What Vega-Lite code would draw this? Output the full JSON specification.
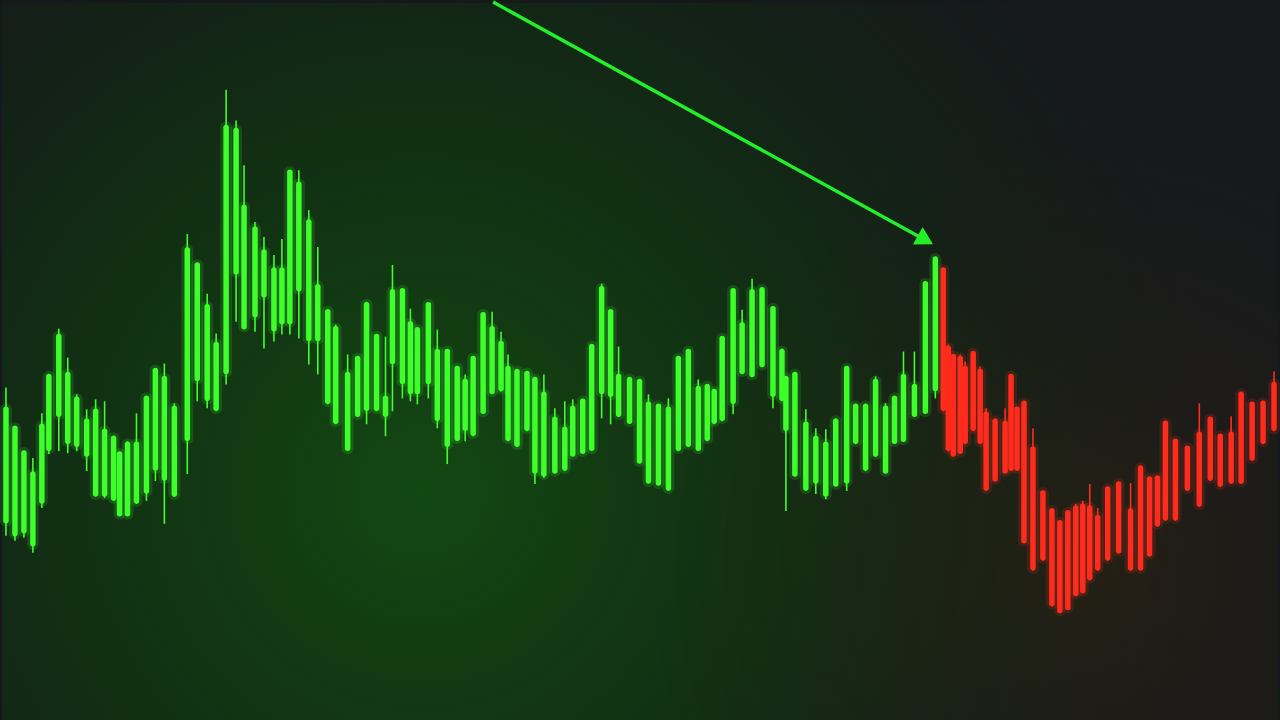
{
  "$schema": "https://vega.github.io/schema/vega-lite/v6.json",
  "width": 1280,
  "height": 720,
  "padding": 0,
  "autosize": {"type": "fit", "contains": "padding"},
  "background": "#16191b",
  "config": {"view": {"stroke": null}},
  "datasets": {
    "frame": [{"x0": -5, "x1": 1285, "y0": -5, "y1": 725}],
    "arrow": [{"xs": 493, "ys": 721, "xe": 925, "ye": 483, "xh": 927, "yh": 482}],
    "candles": [
      {"x":4,"high":334,"close":312,"open":200,"low":185},
      {"x":13,"high":295,"close":293,"open":187,"low":180},
      {"x":22,"high":270,"close":268,"open":190,"low":183},
      {"x":31,"high":263,"close":247,"open":177,"low":168},
      {"x":40,"high":308,"close":295,"open":220,"low":213},
      {"x":47,"high":347,"close":345,"open":273,"low":267},
      {"x":57,"high":393,"close":385,"open":307,"low":270},
      {"x":66,"high":364,"close":347,"open":280,"low":268},
      {"x":75,"high":327,"close":322,"open":277,"low":270},
      {"x":85,"high":312,"close":300,"open":267,"low":250},
      {"x":94,"high":322,"close":310,"open":227,"low":225},
      {"x":103,"high":320,"close":290,"open":227,"low":223},
      {"x":112,"high":285,"close":283,"open":223,"low":220},
      {"x":118,"high":268,"close":267,"open":207,"low":205},
      {"x":126,"high":280,"close":277,"open":207,"low":205},
      {"x":135,"high":308,"close":277,"open":220,"low":217},
      {"x":145,"high":325,"close":323,"open":230,"low":220},
      {"x":154,"high":352,"close":351,"open":253,"low":240},
      {"x":163,"high":358,"close":343,"open":243,"low":197},
      {"x":173,"high":318,"close":313,"open":227,"low":224},
      {"x":186,"high":488,"close":472,"open":283,"low":247},
      {"x":196,"high":458,"close":457,"open":343,"low":320},
      {"x":206,"high":428,"close":415,"open":323,"low":313},
      {"x":215,"high":388,"close":377,"open":313,"low":310},
      {"x":225,"high":633,"close":595,"open":350,"low":337},
      {"x":235,"high":602,"close":592,"open":450,"low":400},
      {"x":243,"high":557,"close":515,"open":395,"low":393},
      {"x":254,"high":500,"close":493,"open":407,"low":390},
      {"x":263,"high":485,"close":470,"open":427,"low":373},
      {"x":273,"high":467,"close":452,"open":393,"low":380},
      {"x":281,"high":483,"close":452,"open":400,"low":387},
      {"x":289,"high":552,"close":550,"open":400,"low":387},
      {"x":298,"high":552,"close":538,"open":433,"low":383},
      {"x":308,"high":512,"close":500,"open":383,"low":357},
      {"x":317,"high":475,"close":435,"open":383,"low":347},
      {"x":327,"high":412,"close":410,"open":320,"low":317},
      {"x":335,"high":397,"close":393,"open":300,"low":297},
      {"x":347,"high":367,"close":347,"open":273,"low":270},
      {"x":357,"high":365,"close":363,"open":307,"low":305},
      {"x":366,"high":420,"close":417,"open":313,"low":297},
      {"x":376,"high":385,"close":385,"open":313,"low":310},
      {"x":385,"high":385,"close":323,"open":307,"low":285},
      {"x":392,"high":457,"close":430,"open":360,"low":310},
      {"x":402,"high":432,"close":431,"open":340,"low":323},
      {"x":410,"high":413,"close":398,"open":330,"low":320},
      {"x":417,"high":393,"close":392,"open":330,"low":317},
      {"x":428,"high":418,"close":417,"open":340,"low":323},
      {"x":437,"high":392,"close":370,"open":303,"low":293},
      {"x":447,"high":370,"close":370,"open":277,"low":257},
      {"x":457,"high":353,"close":353,"open":283,"low":280},
      {"x":465,"high":347,"close":340,"open":293,"low":280},
      {"x":473,"high":365,"close":363,"open":288,"low":285},
      {"x":483,"high":408,"close":407,"open":310,"low":308},
      {"x":492,"high":410,"close":393,"open":330,"low":328},
      {"x":501,"high":390,"close":378,"open":333,"low":330},
      {"x":508,"high":367,"close":353,"open":283,"low":280},
      {"x":517,"high":352,"close":350,"open":277,"low":275},
      {"x":527,"high":350,"close":348,"open":293,"low":290},
      {"x":535,"high":343,"close":342,"open":250,"low":237},
      {"x":544,"high":347,"close":327,"open":247,"low":243},
      {"x":555,"high":313,"close":302,"open":250,"low":248},
      {"x":565,"high":320,"close":292,"open":253,"low":250},
      {"x":573,"high":322,"close":313,"open":267,"low":265},
      {"x":583,"high":322,"close":320,"open":270,"low":268},
      {"x":592,"high":377,"close":375,"open":273,"low":270},
      {"x":602,"high":438,"close":433,"open":330,"low":303},
      {"x":611,"high":412,"close":410,"open":327,"low":297},
      {"x":619,"high":375,"close":345,"open":307,"low":305},
      {"x":630,"high":343,"close":342,"open":300,"low":298},
      {"x":640,"high":342,"close":340,"open":260,"low":258},
      {"x":649,"high":327,"close":317,"open":240,"low":238},
      {"x":659,"high":317,"close":315,"open":238,"low":236},
      {"x":669,"high":323,"close":312,"open":233,"low":230},
      {"x":679,"high":365,"close":363,"open":273,"low":270},
      {"x":689,"high":372,"close":370,"open":277,"low":275},
      {"x":699,"high":342,"close":333,"open":273,"low":270},
      {"x":708,"high":337,"close":335,"open":283,"low":280},
      {"x":715,"high":332,"close":330,"open":300,"low":297},
      {"x":723,"high":385,"close":383,"open":303,"low":300},
      {"x":734,"high":432,"close":431,"open":320,"low":307},
      {"x":743,"high":412,"close":397,"open":350,"low":348},
      {"x":753,"high":443,"close":430,"open":347,"low":345},
      {"x":763,"high":433,"close":432,"open":357,"low":355},
      {"x":774,"high":415,"close":413,"open":327,"low":313},
      {"x":783,"high":373,"close":370,"open":323,"low":320},
      {"x":787,"high":343,"close":343,"open":293,"low":210},
      {"x":796,"high":348,"close":347,"open":247,"low":245},
      {"x":807,"high":312,"close":297,"open":233,"low":230},
      {"x":817,"high":293,"close":283,"open":240,"low":227},
      {"x":827,"high":292,"close":277,"open":227,"low":222},
      {"x":837,"high":303,"close":300,"open":237,"low":235},
      {"x":848,"high":355,"close":353,"open":240,"low":230},
      {"x":857,"high":317,"close":315,"open":280,"low":277},
      {"x":867,"high":317,"close":315,"open":253,"low":250},
      {"x":877,"high":345,"close":340,"open":267,"low":264},
      {"x":887,"high":318,"close":313,"open":250,"low":248},
      {"x":896,"high":325,"close":323,"open":280,"low":278},
      {"x":905,"high":370,"close":345,"open":282,"low":280},
      {"x":916,"high":370,"close":335,"open":307,"low":305},
      {"x":927,"high":440,"close":438,"open":310,"low":308},
      {"x":937,"high":464,"close":463,"open":333,"low":323},
      {"x":945,"high":453,"open":452,"close":313,"low":310},
      {"x":950,"high":377,"open":373,"close":273,"low":270},
      {"x":955,"high":367,"open":365,"close":267,"low":265},
      {"x":962,"high":367,"open":363,"close":270,"low":268},
      {"x":967,"high":360,"open":353,"close":280,"low":278},
      {"x":975,"high":370,"open":368,"close":293,"low":290},
      {"x":982,"high":355,"open":350,"close":280,"low":278},
      {"x":988,"high":313,"open":307,"close":233,"low":230},
      {"x":997,"high":303,"open":300,"close":242,"low":240},
      {"x":1007,"high":313,"open":298,"close":250,"low":248},
      {"x":1013,"high":347,"open":345,"close":253,"low":250},
      {"x":1019,"high":313,"open":312,"close":253,"low":250},
      {"x":1026,"high":320,"open":318,"close":180,"low":178},
      {"x":1035,"high":293,"open":272,"close":153,"low":150},
      {"x":1045,"high":230,"open":228,"close":163,"low":160},
      {"x":1054,"high":213,"open":210,"close":117,"low":114},
      {"x":1062,"high":200,"open":198,"close":110,"low":108},
      {"x":1070,"high":210,"open":208,"close":113,"low":111},
      {"x":1078,"high":217,"open":213,"close":127,"low":125},
      {"x":1085,"high":220,"open":215,"close":130,"low":127},
      {"x":1092,"high":237,"open":213,"close":143,"low":140},
      {"x":1100,"high":213,"open":203,"close":153,"low":150},
      {"x":1110,"high":233,"open":232,"close":163,"low":160},
      {"x":1121,"high":238,"open":237,"close":170,"low":167},
      {"x":1133,"high":238,"open":210,"close":153,"low":150},
      {"x":1143,"high":255,"open":253,"close":153,"low":150},
      {"x":1152,"high":243,"open":242,"close":167,"low":164},
      {"x":1160,"high":245,"open":243,"close":197,"low":194},
      {"x":1168,"high":300,"open":298,"close":203,"low":200},
      {"x":1178,"high":282,"open":280,"close":203,"low":200},
      {"x":1190,"high":275,"open":273,"close":233,"low":230},
      {"x":1202,"high":318,"open":287,"close":217,"low":214},
      {"x":1213,"high":303,"open":302,"close":243,"low":240},
      {"x":1223,"high":287,"open":285,"close":237,"low":234},
      {"x":1234,"high":305,"open":287,"close":240,"low":237},
      {"x":1244,"high":328,"open":327,"close":240,"low":237},
      {"x":1255,"high":318,"open":317,"close":263,"low":260},
      {"x":1266,"high":320,"open":318,"close":280,"low":277},
      {"x":1277,"high":350,"open":337,"close":293,"low":290}
    ]
  },
  "layer": [
    {
      "data": {"name": "frame"},
      "mark": {"type": "rect", "clip": true, "color": {"gradient": "radial", "x1": 0.33, "y1": 0.6, "r1": 0, "x2": 0.33, "y2": 0.6, "r2": 0.62,
        "stops": [{"offset": 0, "color": "rgba(18,84,16,0.8)"}, {"offset": 0.5, "color": "rgba(14,62,14,0.55)"}, {"offset": 1, "color": "rgba(14,36,14,0)"}]}},
      "encoding": {
        "x": {"field": "x0", "type": "quantitative", "scale": {"domain": [0, 1280], "nice": false, "zero": false}, "axis": null},
        "x2": {"field": "x1"},
        "y": {"field": "y0", "type": "quantitative", "scale": {"domain": [0, 720], "nice": false, "zero": false}, "axis": null},
        "y2": {"field": "y1"}
      }
    },
    {
      "data": {"name": "frame"},
      "mark": {"type": "rect", "clip": true, "color": {"gradient": "radial", "x1": 0.86, "y1": 0.66, "r1": 0, "x2": 0.86, "y2": 0.66, "r2": 0.36,
        "stops": [{"offset": 0, "color": "rgba(60,38,14,0.38)"}, {"offset": 1, "color": "rgba(40,30,20,0)"}]}},
      "encoding": {"x": {"field": "x0", "type": "quantitative"}, "x2": {"field": "x1"}, "y": {"field": "y0", "type": "quantitative"}, "y2": {"field": "y1"}}
    },
    {
      "data": {"name": "candles"},
      "mark": {"type": "rule", "strokeWidth": 12, "opacity": 0.15, "strokeCap": "round"},
      "encoding": {
        "x": {"field": "x", "type": "quantitative"},
        "y": {"field": "open", "type": "quantitative"}, "y2": {"field": "close"},
        "color": {"condition": {"test": "datum.close > datum.open", "value": "#44ff33"}, "value": "#ff3322"}
      }
    },
    {
      "data": {"name": "candles"},
      "mark": {"type": "rule", "strokeWidth": 1.6},
      "encoding": {
        "x": {"field": "x", "type": "quantitative"},
        "y": {"field": "low", "type": "quantitative"}, "y2": {"field": "high"},
        "color": {"condition": {"test": "datum.close > datum.open", "value": "#3dff2a"}, "value": "#ff2b1c"}
      }
    },
    {
      "data": {"name": "candles"},
      "mark": {"type": "rule", "strokeWidth": 5.5, "strokeCap": "round"},
      "encoding": {
        "x": {"field": "x", "type": "quantitative"},
        "y": {"field": "open", "type": "quantitative"}, "y2": {"field": "close"},
        "color": {"condition": {"test": "datum.close > datum.open", "value": "#3dff2a"}, "value": "#ff2b1c"}
      }
    },
    {
      "data": {"name": "arrow"},
      "mark": {"type": "rule", "strokeWidth": 3.4, "color": "#22ee2a"},
      "encoding": {
        "x": {"field": "xs", "type": "quantitative"}, "x2": {"field": "xe"},
        "y": {"field": "ys", "type": "quantitative"}, "y2": {"field": "ye"}
      }
    },
    {
      "data": {"name": "arrow"},
      "mark": {"type": "point", "shape": "triangle-up", "filled": true, "size": 400, "angle": 119, "opacity": 1, "color": "#22ee2a"},
      "encoding": {
        "x": {"field": "xh", "type": "quantitative"},
        "y": {"field": "yh", "type": "quantitative"}
      }
    }
  ]
}
